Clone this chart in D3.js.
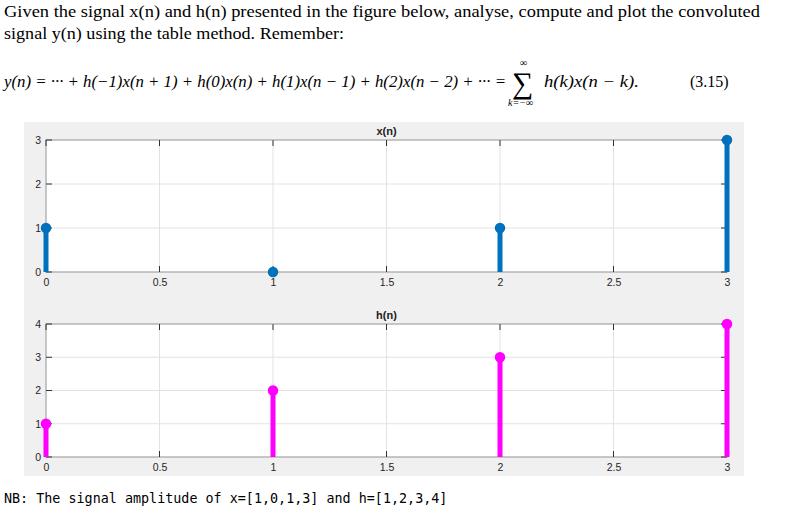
<!DOCTYPE html>
<html><head><meta charset="utf-8">
<script src="https://cdn.jsdelivr.net/npm/d3@7"></script>
<style>
body{margin:0;background:#fff;}
svg{display:block;}
</style></head>
<body>
<svg id="chart" width="787" height="510"></svg>
<script>
const n = [0, 1, 2, 3];
const xValues = [1, 0, 1, 3];
const hValues = [1, 2, 3, 4];
const xTicks = [0, 0.5, 1, 1.5, 2, 2.5, 3];

const svg = d3.select("#chart");

// intro text
const serif = "'Liberation Serif','Times New Roman',serif";
svg.append("text").attr("x", 4).attr("y", 17).attr("font-family", serif).attr("font-size", 17.5)
  .attr("textLength", 756).attr("lengthAdjust", "spacingAndGlyphs")
  .text("Given the signal x(n) and h(n) presented in the figure below, analyse, compute and plot the convoluted");
svg.append("text").attr("x", 4).attr("y", 39).attr("font-family", serif).attr("font-size", 17.5)
  .attr("textLength", 340).attr("lengthAdjust", "spacingAndGlyphs")
  .text("signal y(n) using the table method. Remember:");

// equation
svg.append("text").attr("x", 4).attr("y", 87).attr("font-family", serif).attr("font-size", 17).attr("font-style", "italic")
  .attr("textLength", 502).attr("lengthAdjust", "spacingAndGlyphs")
  .text("y(n) = ··· + h(−1)x(n + 1) + h(0)x(n) + h(1)x(n − 1) + h(2)x(n − 2) + ··· =");
svg.append("text").attr("x", 512).attr("y", 93).attr("font-family", serif).attr("font-size", 30).text("∑");
svg.append("text").attr("x", 520).attr("y", 66).attr("font-family", serif).attr("font-size", 10).attr("font-style", "italic").text("∞");
svg.append("text").attr("x", 508).attr("y", 106).attr("font-family", serif).attr("font-size", 10).attr("font-style", "italic").text("k=−∞");
svg.append("text").attr("x", 544).attr("y", 87).attr("font-family", serif).attr("font-size", 17).attr("font-style", "italic")
  .attr("textLength", 95).attr("lengthAdjust", "spacingAndGlyphs").text("h(k)x(n − k).");
svg.append("text").attr("x", 690).attr("y", 87).attr("font-family", serif).attr("font-size", 16).text("(3.15)");

// figure background
svg.append("rect").attr("x", 24).attr("y", 122).attr("width", 720).attr("height", 354).attr("fill", "#f0f0f0");

const x = d3.scaleLinear().domain([0, 3]).range([46, 727]);

function panel(values, top, bottom, ymax, color, title) {
  const y = d3.scaleLinear().domain([0, ymax]).range([bottom, top]);
  const g = svg.append("g");
  g.append("rect").attr("x", x(0)).attr("y", top).attr("width", x(3) - x(0)).attr("height", bottom - top)
    .attr("fill", "#fff").attr("stroke", "#333").attr("stroke-width", 0.8);
  // grid
  g.selectAll(".gx").data(xTicks).enter().append("line")
    .attr("x1", d => x(d)).attr("x2", d => x(d)).attr("y1", top).attr("y2", bottom)
    .attr("stroke", "#e2e2e2");
  g.selectAll(".gy").data(d3.range(0, ymax + 1)).enter().append("line")
    .attr("x1", x(0)).attr("x2", x(3)).attr("y1", d => y(d)).attr("y2", d => y(d))
    .attr("stroke", "#e2e2e2");
  const ax = g.append("g").attr("transform", `translate(0,${bottom})`)
    .call(d3.axisBottom(x).tickValues(xTicks).tickFormat(d3.format("~g")).tickSize(0).tickPadding(7));
  ax.select(".domain").remove();
  // inner ticks
  g.selectAll(".tx").data(xTicks).enter().append("line")
    .attr("x1", d => x(d)).attr("x2", d => x(d)).attr("y1", bottom).attr("y2", bottom - 6).attr("stroke", "#333");
  g.selectAll(".tx2").data(xTicks).enter().append("line")
    .attr("x1", d => x(d)).attr("x2", d => x(d)).attr("y1", top).attr("y2", top + 6).attr("stroke", "#333");
  const ay = g.append("g").attr("transform", `translate(${x(0)},0)`)
    .call(d3.axisLeft(y).ticks(ymax).tickSize(0).tickPadding(5));
  ay.select(".domain").remove();
  g.selectAll(".ty").data(d3.range(0, ymax + 1)).enter().append("line")
    .attr("x1", x(0)).attr("x2", x(0) + 6).attr("y1", d => y(d)).attr("y2", d => y(d)).attr("stroke", "#333");
  g.selectAll(".ty2").data(d3.range(0, ymax + 1)).enter().append("line")
    .attr("x1", x(3)).attr("x2", x(3) - 6).attr("y1", d => y(d)).attr("y2", d => y(d)).attr("stroke", "#333");
  g.selectAll(".tick text").attr("font-family", "Arial, 'Liberation Sans', sans-serif").attr("font-size", 10.5).attr("fill", "#262626");
  g.append("text").attr("x", x(1.5)).attr("y", top - 5).attr("text-anchor", "middle")
    .attr("font-family", "Arial, 'Liberation Sans', sans-serif").attr("font-size", 11).attr("font-weight", "bold")
    .attr("fill", "#222").text(title);
  // stems
  g.selectAll(".stem").data(values).enter().append("line")
    .attr("x1", (d, i) => x(n[i])).attr("x2", (d, i) => x(n[i]))
    .attr("y1", y(0)).attr("y2", d => y(d)).attr("stroke", color).attr("stroke-width", 5);
  g.selectAll(".mk").data(values).enter().append("circle")
    .attr("cx", (d, i) => x(n[i])).attr("cy", d => y(d)).attr("r", 4.5)
    .attr("fill", color).attr("stroke", color).attr("stroke-width", 1.5);
}

panel(xValues, 140, 272, 3, "#0072bd", "x(n)");
panel(hValues, 324, 457, 4, "#ff00ff", "h(n)");

svg.append("text").attr("x", 4).attr("y", 503).attr("font-family", "'DejaVu Sans Mono','Liberation Mono',monospace")
  .attr("font-size", 13.4).text("NB: The signal amplitude of x=[1,0,1,3] and h=[1,2,3,4]");
</script>
</body></html>
